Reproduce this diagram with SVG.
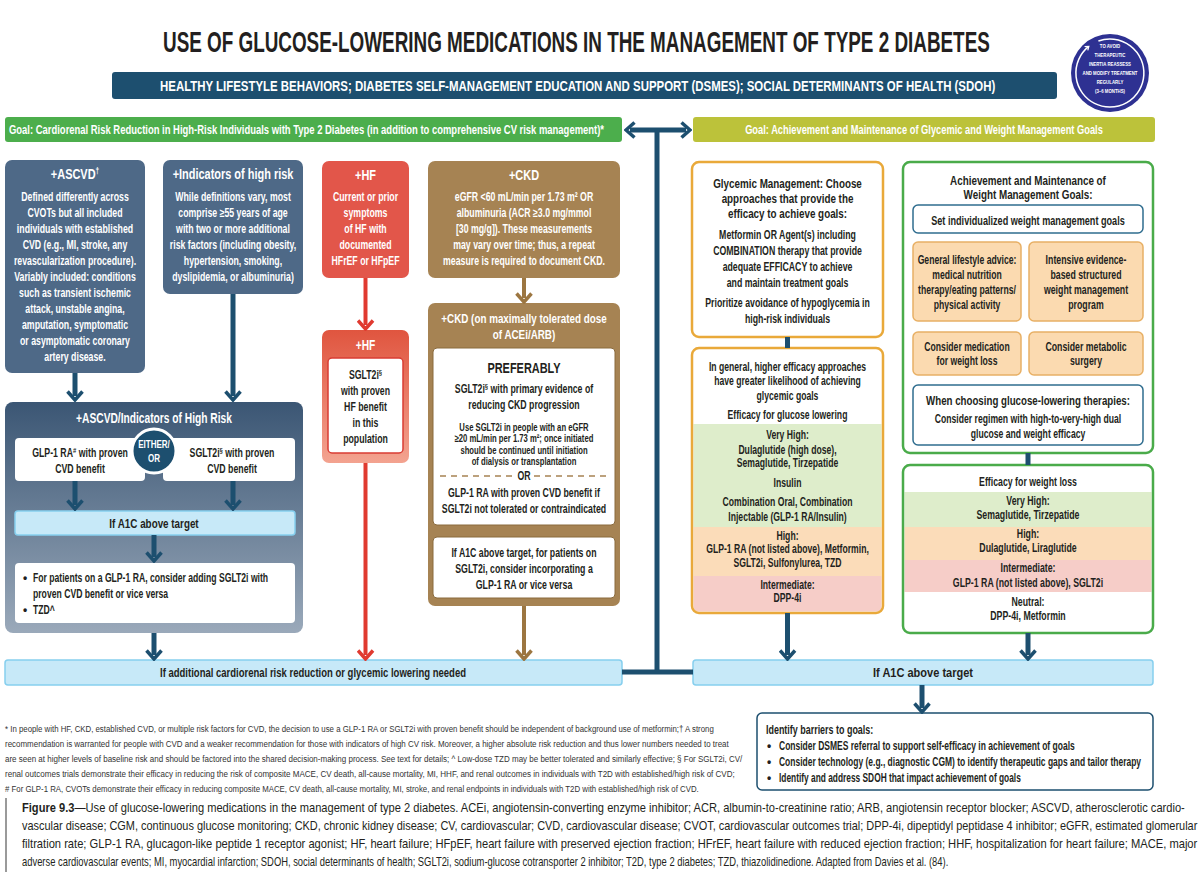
<svg xmlns="http://www.w3.org/2000/svg" width="1200" height="875" viewBox="0 0 1200 875">
<defs>
<style>
.f{font-family:"Liberation Sans",Arial,sans-serif;font-weight:700}
.r{font-family:"Liberation Sans",Arial,sans-serif;font-weight:400}
.w{fill:#fff}
.k{fill:#231f20}
.m{text-anchor:middle}
.s15{font-size:15px}.s14{font-size:14px}.s135{font-size:13.5px}.s12{font-size:12px}.s105{font-size:10.5px}
.cn{fill:none;stroke:#1d4f6f;stroke-width:5}
.cr{fill:none;stroke:#e03a30;stroke-width:4}
.cb{fill:none;stroke:#9c7641;stroke-width:4}
.lb{fill:#c7e9f8;stroke:#86cfee;stroke-width:1.5}
.wbox{fill:#fff;stroke:#2f6d8f;stroke-width:1.5}
.obox{fill:#fbdab0;stroke:#e8b065;stroke-width:1.5}
</style>
<linearGradient id="gBig" x1="0" y1="0" x2="0" y2="1"><stop offset="0" stop-color="#3b5674"/><stop offset="1" stop-color="#9aa9ba"/></linearGradient>
<linearGradient id="gHF" x1="0" y1="0" x2="0" y2="1"><stop offset="0" stop-color="#e0553f"/><stop offset="1" stop-color="#f3a390"/></linearGradient>
<marker id="aN" viewBox="0 0 12 18" refX="6" refY="9" markerWidth="12" markerHeight="18" markerUnits="userSpaceOnUse" orient="auto-start-reverse"><path d="M1.5,1.5 L10,9 L1.5,16.5" fill="none" stroke="#1d4f6f" stroke-width="3.5"/></marker>
<marker id="aR" viewBox="0 0 12 18" refX="6" refY="9" markerWidth="12" markerHeight="18" markerUnits="userSpaceOnUse" orient="auto"><path d="M1.5,1.5 L10,9 L1.5,16.5" fill="none" stroke="#e03a30" stroke-width="3.5"/></marker>
<marker id="aB" viewBox="0 0 12 18" refX="6" refY="9" markerWidth="12" markerHeight="18" markerUnits="userSpaceOnUse" orient="auto"><path d="M1.5,1.5 L10,9 L1.5,16.5" fill="none" stroke="#9c7641" stroke-width="3.5"/></marker>
<marker id="aW" viewBox="0 0 6 6" refX="3" refY="3" markerWidth="6" markerHeight="6" markerUnits="userSpaceOnUse" orient="auto"><path d="M0.5,0.5 L4,3 L0.5,5.5" fill="none" stroke="#fff" stroke-width="1.2"/></marker>
</defs>
<rect width="1200" height="875" fill="#fff"/>

<g id="title">
<text class="f k" transform="translate(163 52) scale(.65 1)" font-size="29" textLength="1272" lengthAdjust="spacingAndGlyphs">USE OF GLUCOSE-LOWERING MEDICATIONS IN THE MANAGEMENT OF TYPE 2 DIABETES</text>
</g>

<g id="n-lifestyle">
<rect x="112" y="72" width="945" height="27" rx="3" fill="#1d4f6f"/>
<text class="f w" transform="translate(160 91) scale(.72 1)" font-size="15" textLength="1160" lengthAdjust="spacingAndGlyphs">HEALTHY LIFESTYLE BEHAVIORS; DIABETES SELF-MANAGEMENT EDUCATION AND SUPPORT (DSMES); SOCIAL DETERMINANTS OF HEALTH (SDOH)</text>
</g>

<g id="n-reassess">
<circle cx="1110" cy="73" r="39" fill="#2e3192"/>
<path d="M1098.4,41.05 A34,34 0 1 1 1088.1,46.95" fill="none" stroke="#fff" stroke-width="1.5" marker-end="url(#aW)"/>
<g transform="translate(1110 0) scale(.7 1)" class="f w m" font-size="6.2">
<text y="48">TO AVOID</text>
<text y="57">THERAPEUTIC</text>
<text y="66">INERTIA REASSESS</text>
<text y="75">AND MODIFY TREATMENT</text>
<text y="84">REGULARLY</text>
<text y="93">(3–6 MONTHS)</text>
</g>
</g>

<g id="n-goal-cardio">
<rect x="5" y="117" width="617" height="25" rx="3" fill="#4cae4c"/>
<text class="f w" transform="translate(9 134) scale(.7 1)" font-size="12" textLength="850" lengthAdjust="spacingAndGlyphs">Goal: Cardiorenal Risk Reduction in High-Risk Individuals with Type 2 Diabetes (in addition to comprehensive CV risk management)*</text>
</g>

<g id="n-goal-glycemic">
<rect x="693" y="117" width="462" height="25" rx="3" fill="#bcc23a"/>
<text class="f w m" transform="translate(924 134) scale(.75 1)" font-size="12" textLength="477" lengthAdjust="spacingAndGlyphs">Goal: Achievement and Maintenance of Glycemic and Weight Management Goals</text>
</g>

<g id="n-ascvd">
<rect x="5" y="160" width="140" height="213" rx="7" fill="#4e6987"/>
<g transform="translate(75 0) scale(.73 1)" class="f w m">
<text y="179" class="s15">+ASCVD<tspan font-size="9" dy="-5">†</tspan></text>
<g class="s12">
<text y="201">Defined differently across</text>
<text y="217">CVOTs but all included</text>
<text y="233">individuals with established</text>
<text y="249">CVD (e.g., MI, stroke, any</text>
<text y="265">revascularization procedure).</text>
<text y="281">Variably included: conditions</text>
<text y="297">such as transient ischemic</text>
<text y="313">attack, unstable angina,</text>
<text y="329">amputation, symptomatic</text>
<text y="345">or asymptomatic coronary</text>
<text y="361">artery disease.</text>
</g>
</g>
</g>

<g id="n-indicators">
<rect x="163" y="160" width="140" height="134" rx="7" fill="#4e6987"/>
<g transform="translate(233 0) scale(.73 1)" class="f w m">
<text y="179" class="s15">+Indicators of high risk</text>
<g class="s12">
<text y="201">While definitions vary, most</text>
<text y="217">comprise ≥55 years of age</text>
<text y="233">with two or more additional</text>
<text y="249">risk factors (including obesity,</text>
<text y="265">hypertension, smoking,</text>
<text y="281">dyslipidemia, or albuminuria)</text>
</g>
</g>
</g>

<g id="n-hf">
<rect x="322" y="161" width="87" height="117" rx="7" fill="#e2564a"/>
<g transform="translate(365.5 0) scale(.73 1)" class="f w m">
<text y="180" class="s15">+HF</text>
<g class="s12">
<text y="201">Current or prior</text>
<text y="217">symptoms</text>
<text y="233">of HF with</text>
<text y="249">documented</text>
<text y="265">HFrEF or HFpEF</text>
</g>
</g>
</g>

<g id="n-ckd">
<rect x="428" y="161" width="192" height="117" rx="7" fill="#a68353"/>
<g transform="translate(524 0) scale(.73 1)" class="f w m">
<text y="180" class="s15">+CKD</text>
<g class="s12">
<text y="201">eGFR &lt;60 mL/min per 1.73 m² OR</text>
<text y="217">albuminuria (ACR ≥3.0 mg/mmol</text>
<text y="233">[30 mg/g]). These measurements</text>
<text y="249">may vary over time; thus, a repeat</text>
<text y="265">measure is required to document CKD.</text>
</g>
</g>
</g>

<g id="n-ascvd-risk">
<rect x="5" y="402" width="298" height="231" rx="8" fill="url(#gBig)"/>
<text class="f w m s14" transform="translate(154 423) scale(.73 1)">+ASCVD/Indicators of High Risk</text>
<rect x="15" y="438" width="130" height="43" rx="4" fill="#fff"/>
<rect x="163" y="438" width="132" height="43" rx="4" fill="#fff"/>
<g transform="translate(80 0) scale(.73 1)" class="f k m s12">
<text y="457">GLP-1 RA<tspan font-size="8" dy="-4">#</tspan><tspan dy="4"> with proven</tspan></text>
<text y="473">CVD benefit</text>
</g>
<g transform="translate(232 0) scale(.73 1)" class="f k m s12">
<text y="457">SGLT2i<tspan font-size="8" dy="-4">§</tspan><tspan dy="4"> with proven</tspan></text>
<text y="473">CVD benefit</text>
</g>
<circle cx="154" cy="451" r="22" fill="#1d4f6f" stroke="#fff" stroke-width="3"/>
<g transform="translate(154 0) scale(.73 1)" class="f w m" font-size="11">
<text y="448">EITHER/</text>
<text y="462">OR</text>
</g>
<rect x="15" y="511" width="280" height="24" rx="3" class="lb"/>
<text class="f k m s135" transform="translate(154 528) scale(.73 1)">If A1C above target</text>
<rect x="15" y="563" width="280" height="60" rx="4" fill="#fff"/>
<g class="f k s12">
<text x="23" y="582">•</text>
<text x="23" y="614">•</text>
</g>
<g transform="translate(33 0) scale(.72 1)" class="f k s12">
<text y="582">For patients on a GLP-1 RA, consider adding SGLT2i with</text>
<text y="598">proven CVD benefit or vice versa</text>
<text y="614">TZD^</text>
</g>
</g>

<g id="n-hf-sglt2">
<rect x="322" y="330" width="87" height="133" rx="7" fill="url(#gHF)"/>
<text class="f w m s14" transform="translate(365.5 350) scale(.73 1)">+HF</text>
<rect x="328" y="358" width="75" height="95" rx="4" fill="#fff" stroke="#d93c33" stroke-width="1.5"/>
<g transform="translate(365.5 0) scale(.73 1)" class="f k m s12">
<text y="379">SGLT2i<tspan font-size="8" dy="-4">§</tspan></text>
<text y="395">with proven</text>
<text y="411">HF benefit</text>
<text y="427">in this</text>
<text y="443">population</text>
</g>
</g>

<g id="n-ckd-treat">
<rect x="428" y="303" width="192" height="303" rx="7" fill="#a68353"/>
<g transform="translate(524 0) scale(.73 1)" class="f w m s135">
<text y="323">+CKD (on maximally tolerated dose</text>
<text y="339">of ACEi/ARB)</text>
</g>
<rect x="433" y="348" width="182" height="177" rx="4" fill="#fff" stroke="#8a6a3c" stroke-width="1"/>
<g transform="translate(524 0) scale(.73 1)" class="f k m">
<text y="373" class="s15">PREFERABLY</text>
<text y="393" class="s12">SGLT2i<tspan font-size="8" dy="-4">§</tspan><tspan dy="4"> with primary evidence of</tspan></text>
<text y="409" class="s12">reducing CKD progression</text>
<g class="s105">
<text y="431">Use SGLT2i in people with an eGFR</text>
<text y="442.5">≥20 mL/min per 1.73 m²; once initiated</text>
<text y="454">should be continued until initiation</text>
<text y="465.5">of dialysis or transplantation</text>
</g>
<text y="480" class="s12">OR</text>
<text y="497" class="s12">GLP-1 RA with proven CVD benefit if</text>
<text y="513" class="s12">SGLT2i not tolerated or contraindicated</text>
</g>
<path d="M440,476 H514 M534,476 H610" stroke="#a68353" stroke-width="1.5" stroke-dasharray="6 5"/>
<rect x="433" y="537" width="182" height="61" rx="4" fill="#fff" stroke="#8a6a3c" stroke-width="1"/>
<g transform="translate(524 0) scale(.73 1)" class="f k m s12">
<text y="557">If A1C above target, for patients on</text>
<text y="573">SGLT2i, consider incorporating a</text>
<text y="589">GLP-1 RA or vice versa</text>
</g>
</g>

<g id="n-glycemic">
<rect x="692" y="162" width="191" height="175" rx="7" fill="#fff" stroke="#e9a93a" stroke-width="2.5"/>
<g transform="translate(787.5 0) scale(.73 1)" class="f k m">
<g class="s135">
<text y="188">Glycemic Management: Choose</text>
<text y="203">approaches that provide the</text>
<text y="218">efficacy to achieve goals:</text>
</g>
<g class="s12">
<text y="239">Metformin OR Agent(s) including</text>
<text y="255">COMBINATION therapy that provide</text>
<text y="271">adequate EFFICACY to achieve</text>
<text y="287">and maintain treatment goals</text>
<text y="307">Prioritize avoidance of hypoglycemia in</text>
<text y="323">high-risk individuals</text>
</g>
</g>
</g>

<g id="n-glucose-efficacy">
<rect x="692" y="348" width="191" height="265" rx="7" fill="#fff"/>
<rect x="693.5" y="424" width="188" height="103" fill="#deedcb"/>
<rect x="693.5" y="527" width="188" height="49" fill="#fbdcb9"/>
<path d="M693.5,576 H881.5 V606 Q881.5,611.5 876,611.5 H699 Q693.5,611.5 693.5,606 Z" fill="#f6cdc8"/>
<rect x="692" y="348" width="191" height="265" rx="7" fill="none" stroke="#e9a93a" stroke-width="2.5"/>
<g transform="translate(787.5 0) scale(.72 1)" class="f k m s12">
<text y="371">In general, higher efficacy approaches</text>
<text y="385.5">have greater likelihood of achieving</text>
<text y="400">glycemic goals</text>
<text y="419">Efficacy for glucose lowering</text>
<text y="439">Very High:</text>
<text y="454">Dulaglutide (high dose),</text>
<text y="467.5">Semaglutide, Tirzepatide</text>
<text y="487">Insulin</text>
<text y="506">Combination Oral, Combination</text>
<text y="521">Injectable (GLP-1 RA/Insulin)</text>
<text y="540">High:</text>
<text y="553.5">GLP-1 RA (not listed above), Metformin,</text>
<text y="567">SGLT2i, Sulfonylurea, TZD</text>
<text y="589">Intermediate:</text>
<text y="602.5">DPP-4i</text>
</g>
</g>

<g id="n-weight">
<rect x="903" y="162" width="250" height="291" rx="7" fill="#fff" stroke="#4aab4a" stroke-width="2.5"/>
<g transform="translate(1028 0) scale(.73 1)" class="f k m s135">
<text y="185">Achievement and Maintenance of</text>
<text y="199">Weight Management Goals:</text>
</g>
<rect x="913" y="205" width="230" height="28" rx="5" class="wbox"/>
<text class="f k m" font-size="12.5" transform="translate(1028 225) scale(.73 1)">Set individualized weight management goals</text>
<rect x="913" y="242" width="108" height="79" rx="5" class="obox"/>
<rect x="1029" y="242" width="114" height="79" rx="5" class="obox"/>
<rect x="913" y="332" width="108" height="43" rx="5" class="obox"/>
<rect x="1029" y="332" width="114" height="43" rx="5" class="obox"/>
<g transform="translate(967 0) scale(.72 1)" class="f k m s12">
<text y="264">General lifestyle advice:</text>
<text y="279">medical nutrition</text>
<text y="294">therapy/eating patterns/</text>
<text y="309">physical activity</text>
<text y="351">Consider medication</text>
<text y="365">for weight loss</text>
</g>
<g transform="translate(1086 0) scale(.73 1)" class="f k m s12">
<text y="264">Intensive evidence-</text>
<text y="279">based structured</text>
<text y="294">weight management</text>
<text y="309">program</text>
<text y="351">Consider metabolic</text>
<text y="365">surgery</text>
</g>
<rect x="913" y="385" width="230" height="60" rx="5" class="wbox"/>
<g transform="translate(1028 0) scale(.72 1)" class="f k m">
<text y="405" class="s135">When choosing glucose-lowering therapies:</text>
<text y="423" class="s12">Consider regimen with high-to-very-high dual</text>
<text y="438" class="s12">glucose and weight efficacy</text>
</g>
</g>

<g id="n-weight-efficacy">
<rect x="903" y="465" width="250" height="168" rx="7" fill="#fff"/>
<rect x="904.5" y="492" width="247" height="35" fill="#deedcb"/>
<rect x="904.5" y="527" width="247" height="33" fill="#fbdcb9"/>
<rect x="904.5" y="560" width="247" height="32" fill="#f6cdc8"/>
<rect x="903" y="465" width="250" height="168" rx="7" fill="none" stroke="#4aab4a" stroke-width="2.5"/>
<g transform="translate(1028 0) scale(.73 1)" class="f k m s12">
<text y="486">Efficacy for weight loss</text>
<text y="505">Very High:</text>
<text y="519">Semaglutide, Tirzepatide</text>
<text y="538">High:</text>
<text y="552">Dulaglutide, Liraglutide</text>
<text y="572">Intermediate:</text>
<text y="587">GLP-1 RA (not listed above), SGLT2i</text>
<text y="606">Neutral:</text>
<text y="620">DPP-4i, Metformin</text>
</g>
</g>

<g id="n-bottom-left">
<rect x="5" y="660" width="617" height="25" rx="3" class="lb"/>
<text class="f k m" font-size="12.5" transform="translate(313 677) scale(.68 1)" textLength="450" lengthAdjust="spacingAndGlyphs">If additional cardiorenal risk reduction or glycemic lowering needed</text>
</g>

<g id="n-bottom-right">
<rect x="693" y="660" width="460" height="25" rx="3" class="lb"/>
<text class="f k m" font-size="12.5" transform="translate(923 677) scale(.8 1)" textLength="125" lengthAdjust="spacingAndGlyphs">If A1C above target</text>
</g>

<g id="n-barriers">
<rect x="757" y="713" width="396" height="77" rx="5" fill="#fff" stroke="#1d4f6f" stroke-width="1.5"/>
<text class="f k" font-size="12" transform="translate(766 734) scale(.65 1)" textLength="165" lengthAdjust="spacingAndGlyphs">Identify barriers to goals:</text>
<g class="f k" font-size="12">
<text x="767" y="750">•</text>
<text x="767" y="766">•</text>
<text x="767" y="782">•</text>
<text transform="translate(779 750) scale(.65 1)" textLength="455" lengthAdjust="spacingAndGlyphs">Consider DSMES referral to support self-efficacy in achievement of goals</text>
<text transform="translate(779 766) scale(.65 1)" textLength="557" lengthAdjust="spacingAndGlyphs">Consider technology (e.g., diagnostic CGM) to identify therapeutic gaps and tailor therapy</text>
<text transform="translate(779 782) scale(.65 1)" textLength="372" lengthAdjust="spacingAndGlyphs">Identify and address SDOH that impact achievement of goals</text>
</g>
</g>

<g id="connectors">
<path class="cn" d="M630,130 H686" marker-start="url(#aN)" marker-end="url(#aN)"/>
<path class="cn" d="M657,130 V672"/>
<path class="cn" d="M622,672 H693"/>
<path class="cn" d="M75,373 V396" marker-end="url(#aN)"/>
<path class="cn" d="M233,294 V396" marker-end="url(#aN)"/>
<path class="cn" d="M75,481 V505" marker-end="url(#aN)"/>
<path class="cn" d="M233,481 V505" marker-end="url(#aN)"/>
<path class="cn" d="M154,535 V557" marker-end="url(#aN)"/>
<path class="cn" d="M154,633 V655" marker-end="url(#aN)"/>
<path class="cr" d="M365.5,278 V325" marker-end="url(#aR)"/>
<path class="cr" d="M365.5,463 V655" marker-end="url(#aR)"/>
<path class="cb" d="M524,278 V298" marker-end="url(#aB)"/>
<path class="cb" d="M524,606 V655" marker-end="url(#aB)"/>
<path class="cn" d="M787.5,337 V348"/>
<path class="cn" d="M787.5,613 V655" marker-end="url(#aN)"/>
<path class="cn" d="M1028,453 V465"/>
<path class="cn" d="M1028,633 V655" marker-end="url(#aN)"/>
<path class="cn" d="M922,685 V708" marker-end="url(#aN)"/>
</g>

<g id="footnotes" class="r" font-size="9.5" fill="#333">
<text transform="translate(5 732) scale(.75 1)" textLength="945" lengthAdjust="spacingAndGlyphs">* In people with HF, CKD, established CVD, or multiple risk factors for CVD, the decision to use a GLP-1 RA or SGLT2i with proven benefit should be independent of background use of metformin;† A strong</text>
<text transform="translate(5 747) scale(.75 1)" textLength="965" lengthAdjust="spacingAndGlyphs">recommendation is warranted for people with CVD and a weaker recommendation for those with indicators of high CV risk. Moreover, a higher absolute risk reduction and thus lower numbers needed to treat</text>
<text transform="translate(5 762) scale(.75 1)" textLength="983" lengthAdjust="spacingAndGlyphs">are seen at higher levels of baseline risk and should be factored into the shared decision-making process. See text for details; ^ Low-dose TZD may be better tolerated and similarly effective; § For SGLT2i, CV/</text>
<text transform="translate(5 777) scale(.75 1)" textLength="973" lengthAdjust="spacingAndGlyphs">renal outcomes trials demonstrate their efficacy in reducing the risk of composite MACE, CV death, all-cause mortality, MI, HHF, and renal outcomes in individuals with T2D with established/high risk of CVD;</text>
<text transform="translate(5 792) scale(.75 1)" textLength="925" lengthAdjust="spacingAndGlyphs"># For GLP-1 RA, CVOTs demonstrate their efficacy in reducing composite MACE, CV death, all-cause mortality, MI, stroke, and renal endpoints in individuals with T2D with established/high risk of CVD.</text>
</g>

<g id="caption" class="r" font-size="12.5" fill="#231f20">
<rect x="5" y="798" width="2" height="74" fill="#9a9a9a"/>
<text transform="translate(22 812) scale(.83 1)" textLength="1401" lengthAdjust="spacingAndGlyphs"><tspan class="f">Figure 9.3</tspan>—Use of glucose-lowering medications in the management of type 2 diabetes. ACEi, angiotensin-converting enzyme inhibitor; ACR, albumin-to-creatinine ratio; ARB, angiotensin receptor blocker; ASCVD, atherosclerotic cardio-</text>
<text transform="translate(22 830) scale(.83 1)" textLength="1416" lengthAdjust="spacingAndGlyphs">vascular disease; CGM, continuous glucose monitoring; CKD, chronic kidney disease; CV, cardiovascular; CVD, cardiovascular disease; CVOT, cardiovascular outcomes trial; DPP-4i, dipeptidyl peptidase 4 inhibitor; eGFR, estimated glomerular</text>
<text transform="translate(22 848) scale(.83 1)" textLength="1416" lengthAdjust="spacingAndGlyphs">filtration rate; GLP-1 RA, glucagon-like peptide 1 receptor agonist; HF, heart failure; HFpEF, heart failure with preserved ejection fraction; HFrEF, heart failure with reduced ejection fraction; HHF, hospitalization for heart failure; MACE, major</text>
<text transform="translate(22 866) scale(.83 1)" textLength="1116" lengthAdjust="spacingAndGlyphs">adverse cardiovascular events; MI, myocardial infarction; SDOH, social determinants of health; SGLT2i, sodium-glucose cotransporter 2 inhibitor; T2D, type 2 diabetes; TZD, thiazolidinedione. Adapted from Davies et al. (84).</text>
</g>
</svg>
